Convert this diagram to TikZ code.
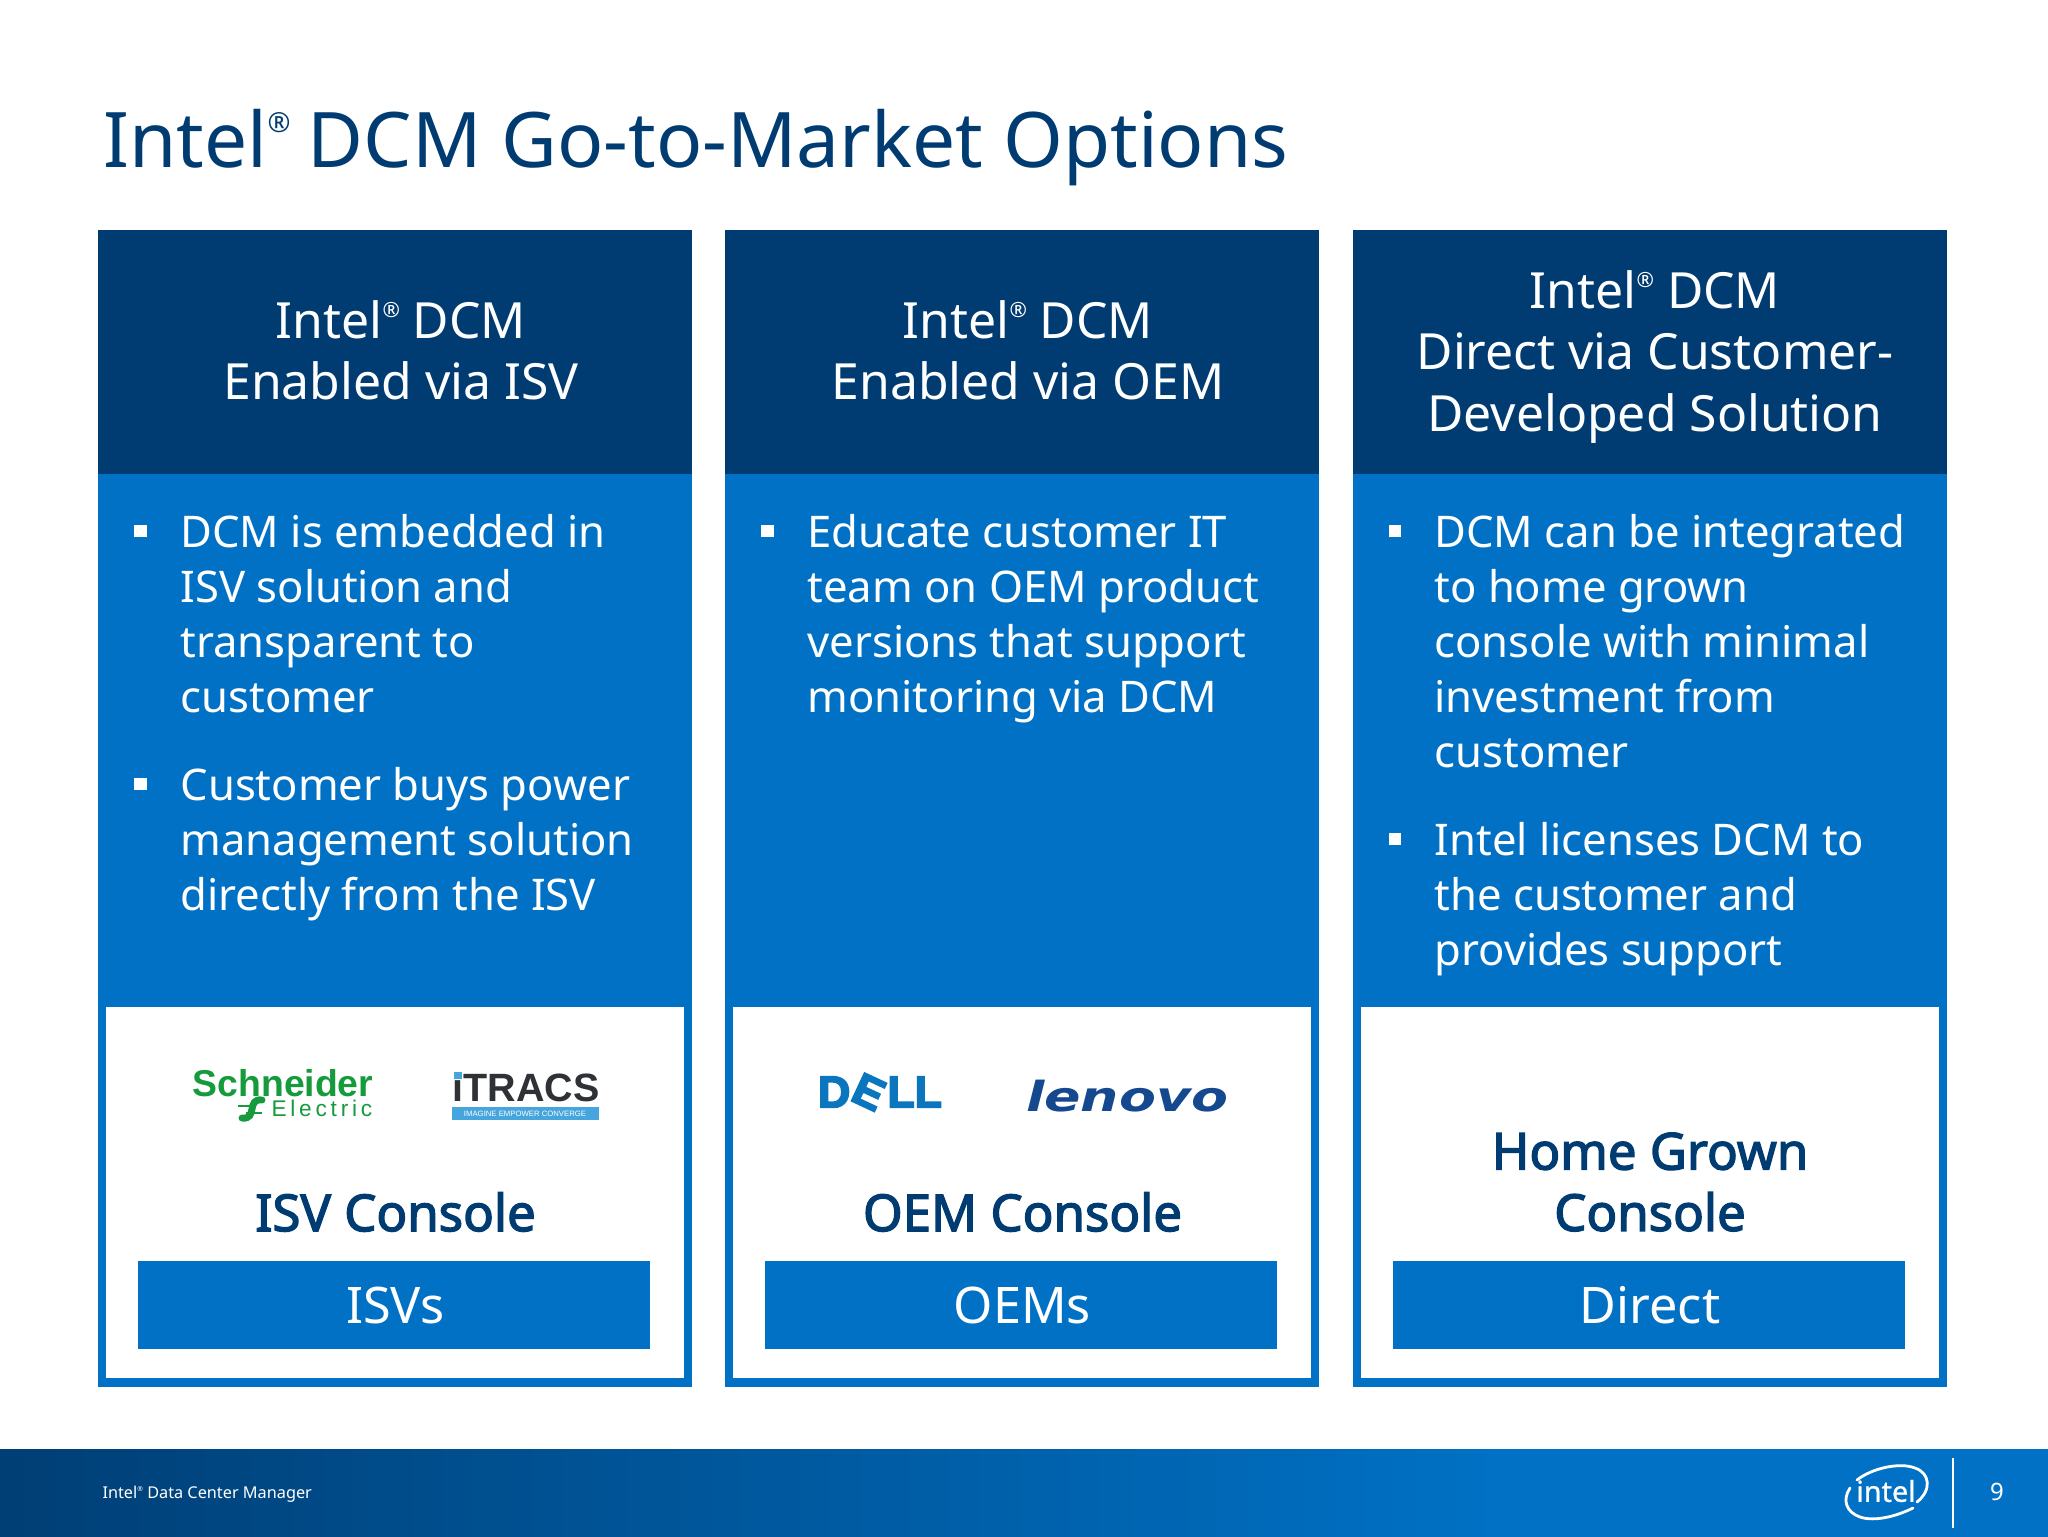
\documentclass[tikz,border=0pt]{standalone}
\usepackage{fontspec}
\setmainfont{Noto Sans}
\newfontfamily\consolefont[FakeBold=2.6]{Noto Sans}
\newfontfamily\intelfont[FakeBold=0.9]{Noto Sans}
\newfontfamily\logofont{Liberation Sans}
\newfontfamily\dellfont[FakeBold=4]{Liberation Sans}
\newfontfamily\lenovofont[FakeStretch=1.3]{DejaVu Sans}
\definecolor{inteldark}{HTML}{003C71}
\definecolor{intelblue}{HTML}{0071C5}
\definecolor{schgreen}{HTML}{159A3C}
\definecolor{itracsgrey}{HTML}{2E3236}
\definecolor{itracsband}{HTML}{45A5DC}
\definecolor{dellblue}{HTML}{0B76BD}
\definecolor{lenovoblue}{HTML}{14488F}
\tikzset{
  x=0.375pt,y=-0.375pt,
  darkband/.style={fill=inteldark},
  blueband/.style={fill=intelblue},
  headtext/.style={text=white,align=center,font=\fontsize{18.7}{23}\selectfont,inner sep=0pt},
  bodytext/.style={text=white,align=left,anchor=north west,font=\fontsize{16.35}{20.6}\selectfont,inner sep=0pt},
  consoletext/.style={text=inteldark,align=center,font=\consolefont\fontsize{19.1}{23}\selectfont,inner sep=0pt},
  striptext/.style={text=white,font=\fontsize{18.9}{23}\selectfont,inner sep=0pt},
  bulletmark/.style={fill=white,minimum size=4.8pt,inner sep=0pt,draw=none,rectangle},
  swoosh/.style={draw=white,line width=1.05pt,line cap=round},
}
\newcommand{\regd}{\raisebox{0.45em}{\fontsize{0.36em}{0.5em}\selectfont ®}}
\newcommand{\regh}{\raisebox{0.42em}{\fontsize{0.42em}{0.5em}\selectfont ®}}
\begin{document}
\begin{tikzpicture}
\useasboundingbox (0,0) rectangle (2048,1536);
\fill[white] (0,0) rectangle (2048,1536);
% footer
\shade[left color=inteldark!95!intelblue,right color=intelblue] (0,1449) rectangle (1500,1545);
\fill[intelblue] (1500,1449) rectangle (2055,1545);
% title
\node[anchor=base west,inner sep=0pt,text=inteldark,font=\fontsize{28.75}{34}\selectfont] (title) at (103,167) {Intel\regd{}\kern-1pt{} DCM Go-to-Market Options};
% columns
\foreach \xa/\name in {98/a,725/b,1353/c}{
  \fill[blueband] (\xa,474) rectangle ++(594,913);
  \fill[darkband] (\xa,230) rectangle ++(594,244);
  \fill[white] (\xa+8,1007) rectangle ++(578,371);
  \fill[blueband] (\xa+40,1261) rectangle ++(512,88);
}
% headers
\node[headtext] (ha) at (401,350) {Intel\regh{} DCM\\Enabled via ISV};
\node[headtext] (hb) at (1028,350) {Intel\regh{} DCM\\Enabled via OEM};
\node[headtext] (hc) at (1655,357) {Intel\regh{} DCM\\Direct via Customer-\\Developed Solution};
% bullets
\node[bulletmark] (ba1) at (140.5,531) {};
\node[bodytext] (ta1) at (180,514) {DCM is embedded in\\ISV solution and\\transparent to\\customer};
\node[bulletmark] (ba2) at (140.5,784) {};
\node[bodytext] (ta2) at (180,767) {Customer buys power\\management solution\\directly from the ISV};
\node[bulletmark] (bb1) at (767.5,531) {};
\node[bodytext] (tb1) at (807,514) {Educate customer IT\\team on OEM product\\versions that support\\monitoring via DCM};
\node[bulletmark] (bc1) at (1395,531) {};
\node[bodytext] (tc1) at (1434,514) {DCM can be integrated\\to home grown\\console with minimal\\investment from\\customer};
\node[bulletmark] (bc2) at (1395,839) {};
\node[bodytext] (tc2) at (1434,822) {Intel licenses DCM to\\the customer and\\provides support};
% console labels
\node[consoletext] (ca) at (395.5,1212) {ISV Console};
\node[consoletext] (cb) at (1022.5,1212) {OEM Console};
\node[consoletext] (cc) at (1650,1182) {Home Grown\\Console};
\node[striptext] (sa) at (395.5,1305) {ISVs};
\node[striptext] (sb) at (1022.5,1305) {OEMs};
\node[striptext] (sc) at (1650,1305) {Direct};
% Schneider logo
\node[inner sep=0pt,text=schgreen,font=\logofont\fontsize{14}{15}\selectfont\bfseries] (sch) at (283,1083) {Schneider};
\node[inner sep=0pt,text=schgreen,anchor=base west,font=\logofont\fontsize{8.5}{9}\selectfont] (elec) at (271,1116) {E\,l\,e\,c\,t\,r\,i\,c};
\draw[schgreen,line width=2.6pt,line cap=round] (262,1100) .. controls (246,1098) and (258,1120) .. (242,1118);
\draw[schgreen,line width=0.8pt] (238,1106) -- (254,1106) (246,1113) -- (262,1113);
% iTRACS logo
\node[inner sep=0pt,text=itracsgrey,anchor=base west,font=\logofont\fontsize{14.8}{16}\selectfont\bfseries] (itr) at (452,1101) {iTRACS};
\fill[itracsband] (453.5,1072) rectangle (462,1079);
\fill[itracsband] (452,1107) rectangle (599,1120);
\node[inner sep=0pt,text=white,font=\logofont\fontsize{2.9}{3}\selectfont] (itag) at (525,1113.5) {IMAGINE EMPOWER CONVERGE};
% Dell logo
\node[inner sep=0pt,text=dellblue,font=\dellfont\fontsize{16.7}{18}\selectfont\bfseries] (dell) at (880,1092) {D\kern-0.5pt\rotatebox[origin=c]{-25}{E}\kern-0.5pt LL};
% Lenovo logo
\node[inner sep=0pt,text=lenovoblue,font=\lenovofont\fontsize{15.5}{15}\selectfont\bfseries\itshape] (len) at (1127,1096) {lenovo};
% footer text
\node[anchor=base west,inner sep=0pt,text=white,font=\fontsize{6.1}{8}\selectfont] (foot) at (102,1498) {Intel\regh{} Data Center Manager};
\node[inner sep=0pt,text=white,font=\fontsize{9}{10}\selectfont] (pg) at (1997,1492) {9};
\coordinate (ruleA) at (1953,1458);
\coordinate (ruleB) at (1953,1528);
\draw[white,line width=0.6pt] (ruleA) -- (ruleB);
% Intel logo
\node[inner sep=0pt,text=white,font=\intelfont\fontsize{10.8}{11}\selectfont] (ilogo) at (1886,1491) {intel};
\draw[swoosh] (1857,1480) .. controls (1872,1468) and (1900,1462) .. (1915,1468) .. controls (1930,1473) and (1932,1490) .. (1917,1502);
\draw[swoosh] (1850,1488) .. controls (1842,1500) and (1846,1512) .. (1860,1517) .. controls (1875,1522) and (1897,1516) .. (1913,1508);
\end{tikzpicture}
\end{document}
